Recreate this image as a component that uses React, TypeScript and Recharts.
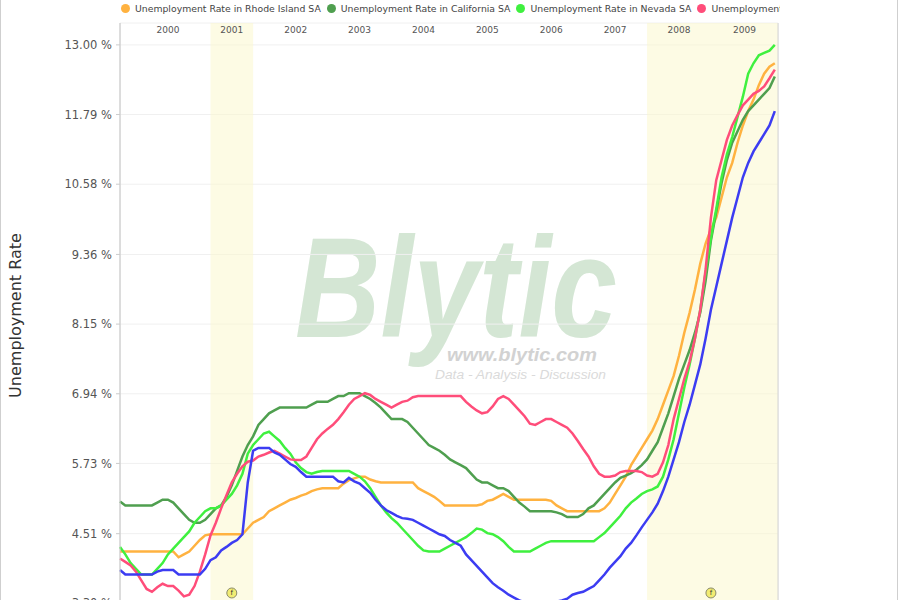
import React from 'react';
import {
  LineChart,
  Line,
  XAxis,
  YAxis,
  CartesianGrid,
  ReferenceArea,
  ReferenceLine,
  ReferenceDot
} from 'recharts';

// months are counted from Jan 2000 (0); the first point is Oct 1999
const FIRST_MONTH = -3;
const X_MAX = 120.6;

const YEARS = ['2000', '2001', '2002', '2003', '2004', '2005', '2006', '2007', '2008', '2009'];
const YEAR_STARTS = [0, 12, 24, 36, 48, 60, 72, 84, 96, 108];
const Y_TICKS = [3.3, 4.51, 5.73, 6.94, 8.15, 9.36, 10.58, 11.79, 13.0];
const RECESSIONS: [number, number][] = [[14, 22], [96, X_MAX]];
const FLAG_MONTHS = [18, 108];
const FLAG_VALUE = 3.48;

// rows: Oct-Dec 1999, then one row per year 2000..2009, then Jan 2010
const RHODE_ISLAND = [
  4.2, 4.2, 4.2,
  4.2, 4.2, 4.2, 4.2, 4.2, 4.2, 4.2, 4.2, 4.1, 4.15, 4.2, 4.3,
  4.4, 4.48, 4.5, 4.5, 4.5, 4.5, 4.5, 4.5, 4.5, 4.6, 4.7, 4.75,
  4.8, 4.9, 4.95, 5.0, 5.05, 5.1, 5.13, 5.17, 5.2, 5.25, 5.28, 5.3,
  5.3, 5.3, 5.3, 5.38, 5.44, 5.47, 5.5, 5.5, 5.45, 5.42, 5.4, 5.4,
  5.4, 5.4, 5.4, 5.4, 5.4, 5.3, 5.25, 5.2, 5.15, 5.08, 5.0, 5.0,
  5.0, 5.0, 5.0, 5.0, 5.0, 5.02, 5.08, 5.1, 5.15, 5.2, 5.15, 5.1,
  5.1, 5.1, 5.1, 5.1, 5.1, 5.1, 5.08, 5.0, 4.95, 4.9, 4.9, 4.9,
  4.9, 4.9, 4.9, 4.9, 4.95, 5.05, 5.2, 5.35, 5.5, 5.7, 5.85, 6.0,
  6.15, 6.3, 6.5, 6.75, 7.0, 7.25, 7.6, 8.0, 8.35, 8.75, 9.2, 9.55,
  9.8, 10.0, 10.35, 10.7, 10.95, 11.3, 11.6, 11.85, 12.05, 12.3, 12.5, 12.62,
  12.68
];

const CALIFORNIA = [
  5.07, 5.0, 5.0,
  5.0, 5.0, 5.0, 5.0, 5.05, 5.1, 5.1, 5.05, 4.95, 4.85, 4.75, 4.7,
  4.7, 4.75, 4.85, 4.95, 5.0, 5.15, 5.35, 5.6, 5.85, 6.05, 6.2, 6.4,
  6.5, 6.6, 6.65, 6.7, 6.7, 6.7, 6.7, 6.7, 6.7, 6.75, 6.8, 6.8,
  6.8, 6.85, 6.9, 6.9, 6.95, 6.95, 6.95, 6.9, 6.85, 6.78, 6.7, 6.6,
  6.5, 6.5, 6.5, 6.45, 6.35, 6.25, 6.15, 6.05, 6.0, 5.95, 5.88, 5.8,
  5.75, 5.7, 5.65, 5.55, 5.45, 5.4, 5.4, 5.35, 5.3, 5.3, 5.25, 5.15,
  5.05, 4.98, 4.9, 4.9, 4.9, 4.9, 4.9, 4.88, 4.85, 4.8, 4.8, 4.8,
  4.85, 4.95, 5.0, 5.1, 5.2, 5.3, 5.4, 5.48, 5.52, 5.56, 5.62, 5.7,
  5.8, 5.95, 6.1, 6.35, 6.6, 6.9, 7.2, 7.45, 7.7, 8.0, 8.35, 8.9,
  9.6, 10.1, 10.6, 11.0, 11.3, 11.5, 11.7, 11.85, 11.95, 12.05, 12.15, 12.25,
  12.45
];

const NEVADA = [
  4.28, 4.15, 4.0,
  3.9, 3.8, 3.8, 3.8, 3.9, 4.0, 4.15, 4.25, 4.35, 4.45, 4.55, 4.7,
  4.8, 4.9, 4.95, 4.95, 5.0, 5.1, 5.2, 5.35, 5.55, 5.9, 6.05, 6.15,
  6.25, 6.28, 6.2, 6.12, 6.0, 5.9, 5.75, 5.65, 5.58, 5.55, 5.58, 5.6,
  5.6, 5.6, 5.6, 5.6, 5.6, 5.55, 5.5, 5.42, 5.3, 5.15, 5.0, 4.88,
  4.78, 4.7, 4.6, 4.5, 4.4, 4.3, 4.22, 4.2, 4.2, 4.2, 4.25, 4.3,
  4.35, 4.4, 4.45, 4.52, 4.6, 4.58, 4.52, 4.5, 4.45, 4.38, 4.28, 4.2,
  4.2, 4.2, 4.2, 4.25, 4.3, 4.35, 4.38, 4.38, 4.38, 4.38, 4.38, 4.38,
  4.38, 4.38, 4.38, 4.45, 4.52, 4.62, 4.72, 4.82, 4.95, 5.05, 5.12, 5.2,
  5.25, 5.28, 5.33, 5.5, 5.8, 6.15, 6.6, 7.05, 7.45, 7.9, 8.4, 9.05,
  9.65, 10.15, 10.7, 11.1, 11.4, 11.75, 12.1, 12.5, 12.68, 12.82, 12.86, 12.9,
  13.0
];

const SOUTH_CAROLINA = [
  4.08, 4.02, 3.96,
  3.85, 3.7, 3.55, 3.5, 3.58, 3.64, 3.6, 3.6, 3.52, 3.42, 3.45, 3.6,
  3.85, 4.15, 4.48, 4.7, 4.95, 5.18, 5.4, 5.55, 5.68, 5.76, 5.78, 5.85,
  5.88, 5.92, 5.95, 5.9, 5.85, 5.8, 5.79, 5.79, 5.85, 6.0, 6.15, 6.25,
  6.33, 6.4, 6.5, 6.62, 6.75, 6.85, 6.9, 6.95, 6.92, 6.85, 6.8, 6.75,
  6.7, 6.75, 6.8, 6.82, 6.88, 6.9, 6.9, 6.9, 6.9, 6.9, 6.9, 6.9,
  6.9, 6.9, 6.8, 6.72, 6.65, 6.6, 6.62, 6.72, 6.85, 6.9, 6.85, 6.75,
  6.65, 6.55, 6.42, 6.4, 6.45, 6.5, 6.5, 6.45, 6.4, 6.35, 6.25, 6.12,
  5.98, 5.85, 5.68, 5.55, 5.5, 5.5, 5.52, 5.58, 5.6, 5.6, 5.6, 5.58,
  5.52, 5.5, 5.55, 5.75, 6.05, 6.5, 6.85, 7.2, 7.5, 7.9, 8.4, 9.1,
  10.0, 10.65, 11.0, 11.35, 11.6, 11.78, 11.95, 12.05, 12.15, 12.2, 12.28, 12.42,
  12.57
];

const FLORIDA = [
  3.88, 3.8, 3.8,
  3.8, 3.8, 3.8, 3.8, 3.85, 3.88, 3.88, 3.88, 3.8, 3.8, 3.8, 3.8,
  3.8, 3.9, 4.05, 4.1, 4.22, 4.28, 4.35, 4.4, 4.5, 5.4, 5.95, 6.0,
  6.0, 6.0, 5.92, 5.88, 5.8, 5.72, 5.67, 5.58, 5.5, 5.5, 5.5, 5.5,
  5.5, 5.5, 5.42, 5.4, 5.48, 5.42, 5.38, 5.3, 5.22, 5.1, 5.0, 4.92,
  4.87, 4.82, 4.78, 4.77, 4.75, 4.7, 4.65, 4.6, 4.55, 4.5, 4.47, 4.4,
  4.35, 4.3, 4.15, 4.05, 3.95, 3.85, 3.75, 3.65, 3.58, 3.52, 3.45, 3.4,
  3.35, 3.32, 3.3, 3.3, 3.3, 3.32, 3.33, 3.33, 3.35, 3.38, 3.45, 3.48,
  3.5, 3.55, 3.6, 3.7, 3.8, 3.92, 4.02, 4.12, 4.25, 4.35, 4.48, 4.62,
  4.75, 4.88, 5.03, 5.25, 5.5, 5.8, 6.1, 6.45, 6.75, 7.1, 7.45, 7.9,
  8.4, 8.8, 9.2, 9.6, 10.0, 10.35, 10.7, 10.95, 11.15, 11.3, 11.45, 11.6,
  11.85
];

const SERIES = [
  { key: 'ri', name: 'Unemployment Rate in Rhode Island SA', color: '#ffb240', values: RHODE_ISLAND },
  { key: 'ca', name: 'Unemployment Rate in California SA', color: '#4f9f4f', values: CALIFORNIA },
  { key: 'nv', name: 'Unemployment Rate in Nevada SA', color: '#3ff03f', values: NEVADA },
  { key: 'sc', name: 'Unemployment Rate in South Carolina SA', color: '#ff4d7a', values: SOUTH_CAROLINA },
  { key: 'fl', name: 'Unemployment Rate in Florida SA', color: '#3c3cf2', values: FLORIDA }
];

const data = RHODE_ISLAND.map((_, i) => {
  const row: Record<string, number> = { month: FIRST_MONTH + i };
  SERIES.forEach((s) => {
    row[s.key] = s.values[i];
  });
  return row;
});

const FONT = '"DejaVu Sans", Verdana, sans-serif';

const YLabel = ({ viewBox }: any) => {
  const x = viewBox.x + 15;
  const y = viewBox.y + viewBox.height * 0.45;
  return (
    <text
      x={x}
      y={y}
      transform={`rotate(-90 ${x} ${y})`}
      textAnchor="middle"
      dominantBaseline="central"
      fontSize={16}
      fill="#333"
      fontFamily={FONT}
    >
      Unemployment Rate
    </text>
  );
};

const Legend = () => (
  <div
    style={{
      position: 'absolute',
      top: 2,
      left: 121,
      width: 659,
      height: 14,
      overflow: 'hidden',
      whiteSpace: 'nowrap',
      fontFamily: FONT,
      fontSize: 9.3,
      color: '#444',
      lineHeight: '14px',
      zIndex: 2
    }}
  >
    {SERIES.map((s) => (
      <span key={s.key} style={{ marginRight: 6 }}>
        <span
          style={{
            display: 'inline-block',
            width: 9,
            height: 9,
            borderRadius: '50%',
            background: s.color,
            marginRight: 5,
            verticalAlign: -1
          }}
        />
        {s.name}
      </span>
    ))}
  </div>
);

const Watermark = () => (
  <svg
    width={900}
    height={600}
    style={{ position: 'absolute', left: 0, top: 0, zIndex: 0 }}
  >
    <text
      x={295}
      y={337}
      fontSize={142}
      fontWeight="bold"
      fontStyle="italic"
      fontFamily='"Liberation Sans", Arial, sans-serif'
      fill="#d4e6d4"
      textLength={322}
      lengthAdjust="spacingAndGlyphs"
    >
      Blytic
    </text>
    <text
      x={447}
      y={361}
      fontSize={19}
      fontWeight="bold"
      fontStyle="italic"
      fontFamily='"Liberation Sans", Arial, sans-serif'
      fill="#d2d2d2"
      textLength={150}
      lengthAdjust="spacingAndGlyphs"
    >
      www.blytic.com
    </text>
    <text
      x={435}
      y={379}
      fontSize={12}
      fontStyle="italic"
      fontFamily='"Liberation Sans", Arial, sans-serif'
      fill="#dadada"
      textLength={171}
      lengthAdjust="spacingAndGlyphs"
    >
      Data - Analysis - Discussion
    </text>
  </svg>
);

export default function App() {
  return (
    <div
      style={{
        position: 'absolute',
        left: 0,
        top: 0,
        width: 900,
        height: 600,
        overflow: 'hidden',
        background: '#fff',
        fontFamily: FONT
      }}
    >
      <Watermark />
      <Legend />
      <div style={{ position: 'absolute', left: 0, top: 0, width: 1, height: 600, background: '#cfcfcf' }} />
      <div style={{ position: 'absolute', left: 897, top: 0, width: 1, height: 600, background: '#cfcfcf' }} />
      <div style={{ position: 'absolute', left: 0, top: 0, zIndex: 1 }}>
        <LineChart width={900} height={700} data={data} margin={{ top: 23, right: 122, left: 0, bottom: 27 }}>
          <CartesianGrid stroke="#f0f0f0" vertical={false} />
          <CartesianGrid stroke="#dcdcdc" horizontal={false} />
          {RECESSIONS.map(([a, b]) => (
            <ReferenceArea key={a} x1={a} x2={b} fill="#fbf7c9" fillOpacity={0.5} stroke="none" />
          ))}
          {YEARS.map((y, i) => (
            <ReferenceArea
              key={y}
              x1={YEAR_STARTS[i]}
              x2={i < YEARS.length - 1 ? YEAR_STARTS[i + 1] : X_MAX}
              fill="none"
              stroke="none"
              label={{ value: y, position: 'insideTop', offset: 4, fontSize: 9, fill: '#555', fontFamily: FONT }}
            />
          ))}
          <XAxis
            dataKey="month"
            type="number"
            orientation="top"
            domain={[FIRST_MONTH, X_MAX]}
            ticks={YEAR_STARTS}
            tick={false}
            tickLine={false}
            axisLine={{ stroke: '#d4d4d4' }}
            height={0}
          />
          <YAxis
            type="number"
            domain={[2.09, 13.38]}
            ticks={Y_TICKS}
            allowDataOverflow
            width={120}
            tickFormatter={(v: number) => `${v.toFixed(2)} %`}
            tick={{ fontSize: 11.5, fill: '#555', fontFamily: FONT }}
            tickSize={4}
            tickMargin={4}
            tickLine={{ stroke: '#cccccc' }}
            axisLine={{ stroke: '#cccccc' }}
            label={<YLabel />}
          />
          <ReferenceLine x={X_MAX} stroke="#dcdcdc" />
          {SERIES.map((s) => (
            <Line
              key={s.key}
              type="linear"
              dataKey={s.key}
              name={s.name}
              stroke={s.color}
              strokeWidth={2.5}
              dot={false}
              isAnimationActive={false}
            />
          ))}
          {FLAG_MONTHS.map((m) => (
            <ReferenceDot
              key={m}
              x={m}
              y={FLAG_VALUE}
              r={5}
              fill="#f2ec72"
              stroke="#8a8a6a"
              label={{ value: 'f', position: 'center', fontSize: 7, fill: '#333' }}
            />
          ))}
        </LineChart>
      </div>
    </div>
  );
}
